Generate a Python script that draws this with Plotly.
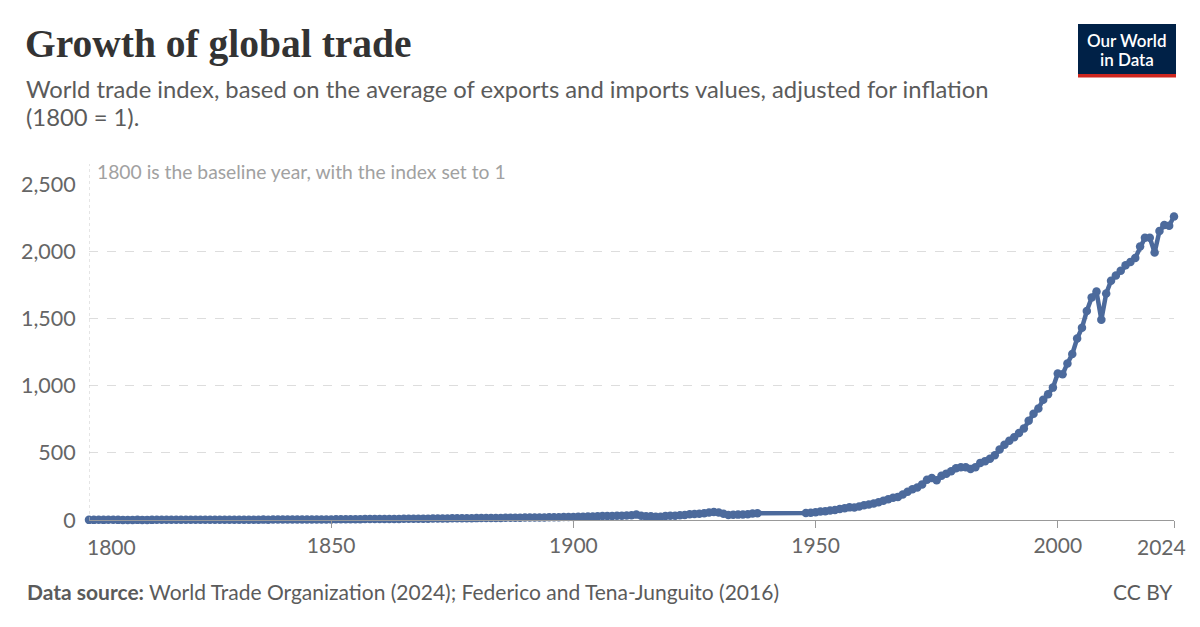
import plotly.graph_objects as go

# ---- Data ----
years_early = list(range(1800, 1939))
index_early = [
    1.0, 1.0, 1.1, 1.0, 1.1, 1.1, 1.0, 0.9, 0.8, 0.9,
    1.0, 0.9, 0.9, 1.0, 1.2, 1.3, 1.3, 1.4, 1.5, 1.4,
    1.5, 1.6, 1.6, 1.7, 1.8, 1.9, 1.8, 1.9, 2.0, 2.1,
    2.2, 2.2, 2.3, 2.4, 2.5, 2.6, 2.8, 2.7, 2.9, 3.0,
    3.1, 3.1, 3.2, 3.3, 3.5, 3.7, 3.8, 4.0, 3.9, 4.2,
    4.5, 4.8, 5.0, 5.6, 5.9, 6.0, 6.5, 6.9, 6.6, 7.2,
    7.6, 7.5, 7.4, 7.7, 8.0, 8.5, 8.8, 9.2, 9.6, 10.0,
    10.2, 10.9, 11.5, 11.8, 12.0, 12.4, 12.6, 12.8, 13.0, 13.5,
    14.0, 14.4, 14.9, 15.3, 15.5, 15.6, 15.9, 16.4, 17.0, 17.6,
    18.0, 18.3, 18.2, 18.4, 19.0, 19.7, 20.3, 20.9, 21.8, 22.5,
    23.0, 23.5, 24.5, 25.6, 26.2, 27.5, 29.0, 30.2, 29.5, 31.0,
    32.5, 34.0, 36.0, 40.0, 31.0, 27.0, 27.5, 25.0, 24.0, 29.0,
    32.0, 31.0, 35.0, 37.0, 42.0, 45.0, 47.0, 51.0, 55.0, 60.0,
    55.0, 47.0, 38.0, 38.5, 40.0, 41.5, 43.0, 49.0, 50.0,
]
years_late = list(range(1948, 2025))
index_late = [
    52, 54, 58, 64, 65, 70, 74, 82, 88, 94,
    93, 100, 110, 116, 123, 132, 144, 154, 165, 172,
    190, 210, 228, 242, 265, 300, 312, 296, 330, 345,
    362, 385, 393, 392, 380, 392, 425, 438, 455, 482,
    525, 560, 590, 615, 648, 680, 738, 790, 830, 895,
    935, 985, 1090, 1085, 1165, 1235, 1350, 1430, 1555, 1655,
    1700, 1490, 1685, 1780, 1820, 1855, 1895, 1920, 1950, 2035,
    2100, 2100, 1990, 2150, 2195, 2190, 2258,
]
years = years_early + years_late
values = index_early + index_late

y_ticks = [0, 500, 1000, 1500, 2000, 2500]
x_ticks = [1850, 1900, 1950, 2000, 2024]
x_ticktext = ["1850", "1900", "1950", "2000", ""]

title = "Growth of global trade"
subtitle_1 = "World trade index, based on the average of exports and imports values, adjusted for inflation"
subtitle_2 = "(1800 = 1)."
note = "1800 is the baseline year, with the index set to 1"
source = "<b>Data source:</b> World Trade Organization (2024); Federico and Tena-Junguito (2016)"

# ---- Layout geometry ----
W, H = 1200, 627
L, R, T, B = 89, 1174, 184, 520


def px(x):
    return (x - L) / (R - L)


def py(y):
    return (B - y) / (B - T)


LINE = "#4c6a9c"
FONT = "Lato"

fig = go.Figure()
fig.add_trace(go.Scatter(
    x=years, y=values, mode="lines+markers",
    line=dict(color=LINE, width=4.5),
    marker=dict(color=LINE, size=8.5),
    cliponaxis=False, showlegend=False, hoverinfo="x+y",
))

fig.update_layout(
    width=W, height=H,
    margin=dict(l=L, r=W - R, t=T, b=H - B),
    paper_bgcolor="white", plot_bgcolor="white",
    font=dict(family=FONT, color="#5b5b5b"),
    xaxis=dict(
        range=[1800, 2024], tickvals=x_ticks, ticktext=x_ticktext,
        showgrid=False, zeroline=False, showline=True, linecolor="#999999", linewidth=1,
        ticks="outside", ticklen=7, tickcolor="#999999",
        tickfont=dict(family=FONT, size=21, color="#666666"),
        fixedrange=True,
    ),
    yaxis=dict(
        range=[0, 2500], tickvals=y_ticks, tickformat=",",
        showgrid=True, gridcolor="#dddddd", griddash="dash", gridwidth=1,
        zeroline=False, showline=False,
        ticks="outside", ticklen=8, tickcolor="rgba(0,0,0,0)",
        tickfont=dict(family=FONT, size=21.5, color="#666666"),
        fixedrange=True,
    ),
)

shapes = [
    # vertical dashed line at 1800
    dict(type="line", xref="x", yref="paper", x0=1800, x1=1800, y0=0, y1=py(164),
         line=dict(color="#cccccc", width=1, dash="dot")),
    # logo
    dict(type="rect", xref="paper", yref="paper", x0=px(1078), x1=px(1176), y0=py(74), y1=py(24),
         fillcolor="#002147", line=dict(width=0)),
    dict(type="rect", xref="paper", yref="paper", x0=px(1078), x1=px(1176), y0=py(77.5), y1=py(74),
         fillcolor="#ce261e", line=dict(width=0)),
]
fig.update_layout(shapes=shapes)

ann = [
    dict(text="<b>" + title + "</b>", x=px(23), y=py(44), xanchor="left", yanchor="middle",
         font=dict(family="Liberation Serif", size=39.5, color="#333333")),
    dict(text=subtitle_1, x=px(24), y=py(89), xanchor="left", yanchor="middle",
         font=dict(family=FONT, size=23.8, color="#5b5b5b")),
    dict(text=subtitle_2, x=px(24), y=py(117), xanchor="left", yanchor="middle",
         font=dict(family=FONT, size=23.8, color="#5b5b5b")),
    dict(text=note, x=px(95), y=py(172), xanchor="left", yanchor="middle",
         font=dict(family=FONT, size=19.3, color="#a1a1a1")),
    dict(text="1800", x=px(111), y=py(546), xanchor="center", yanchor="middle",
         font=dict(family=FONT, size=21, color="#666666")),
    dict(text="2024", x=px(1161), y=py(546), xanchor="center", yanchor="middle",
         font=dict(family=FONT, size=21, color="#666666")),
    dict(text=source, x=px(25), y=py(591), xanchor="left", yanchor="middle",
         font=dict(family=FONT, size=21, color="#5b5b5b")),
    dict(text="CC BY", x=px(1175), y=py(591), xanchor="right", yanchor="middle",
         font=dict(family=FONT, size=21, color="#5b5b5b")),
    dict(text="Our World", x=px(1127), y=py(40), xanchor="center", yanchor="middle",
         font=dict(family=FONT, size=17, color="white", weight=600)),
    dict(text="in Data", x=px(1127), y=py(59), xanchor="center", yanchor="middle",
         font=dict(family=FONT, size=17, color="white", weight=600)),
]
for a in ann:
    a.update(xref="paper", yref="paper", showarrow=False)
fig.update_layout(annotations=ann)

fig.write_html("out.html")
